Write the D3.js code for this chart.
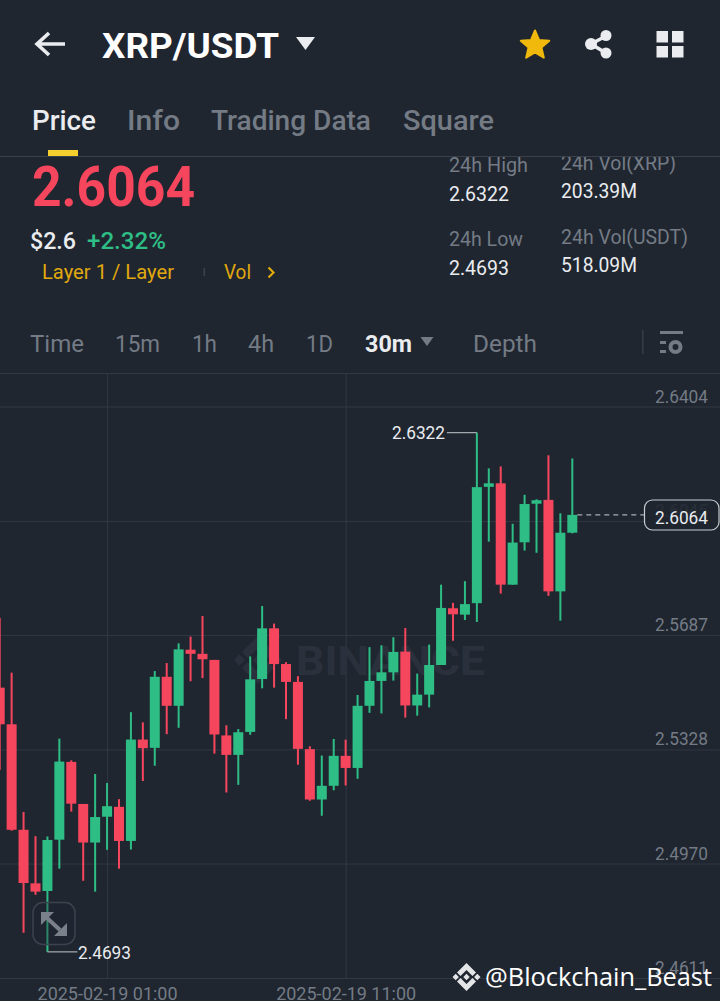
<!DOCTYPE html>
<html>
<head>
<meta charset="utf-8">
<style>
  html, body { margin: 0; padding: 0; background: #1f2630; overflow: hidden; }
  svg { display: block; }
  text { font-family: Roboto, "Noto Sans", sans-serif; }
</style>
<script src="https://cdn.jsdelivr.net/npm/d3@7"></script>
</head>
<body>
<div id="chart"></div>
<script>
// candles, oldest first, 30m each
const opens = [2.5522,2.5407,2.5076,2.4908,2.4884,2.5045,2.5289,2.5157,2.5036,2.5117,2.5148,2.5041,2.5359,2.5333,2.5556,2.5465,2.5641,2.5628,2.5609,2.5372,2.5311,2.5383,2.5549,2.5708,2.5596,2.5540,2.5329,2.5171,2.5214,2.5308,2.5270,2.5465,2.5543,2.5570,2.5635,2.5466,2.5500,2.5593,2.5771,2.5751,2.5787,2.6152,2.6163,2.5845,2.5978,2.6099,2.6111,2.5824,2.6008];
const closes = [2.5407,2.5076,2.4909,2.4882,2.5044,2.5290,2.5158,2.5036,2.5116,2.5150,2.5041,2.5359,2.5332,2.5556,2.5465,2.5642,2.5628,2.5611,2.5375,2.5311,2.5382,2.5548,2.5708,2.5596,2.5540,2.5330,2.5171,2.5214,2.5308,2.5270,2.5465,2.5543,2.5570,2.5634,2.5466,2.5500,2.5593,2.5772,2.5752,2.5784,2.6151,2.6163,2.5845,2.5977,2.6098,2.6110,2.5824,2.6008,2.6064];
const highs = [2.5741,2.5569,2.5132,2.5056,2.5055,2.5362,2.5294,2.5157,2.5251,2.5223,2.5172,2.5445,2.5413,2.5574,2.5599,2.5661,2.5682,2.5747,2.5609,2.5404,2.5392,2.5620,2.5778,2.5723,2.5602,2.5558,2.5338,2.5309,2.5361,2.5359,2.5499,2.5649,2.5655,2.5680,2.5709,2.5566,2.5657,2.5845,2.5788,2.5856,2.6322,2.6210,2.6216,2.6036,2.6127,2.6113,2.6251,2.6069,2.6241];
const lows = [2.5264,2.5073,2.4753,2.4872,2.4693,2.4954,2.5133,2.4916,2.4882,2.5013,2.4954,2.5014,2.5229,2.5277,2.5376,2.5396,2.5542,2.5552,2.5315,2.5193,2.5217,2.5374,2.5520,2.5522,2.5423,2.5280,2.5167,2.5120,2.5200,2.5215,2.5236,2.5443,2.5441,2.5544,2.5428,2.5434,2.5460,2.5593,2.5669,2.5734,2.5728,2.5980,2.5817,2.5845,2.5952,2.5945,2.5810,2.5732,2.6006];

const priceTicks = [2.6404, 2.6045, 2.5687, 2.5328, 2.4970, 2.4611];
const timeTicks = [9, 29];
const timeLabels = ["2025-02-19 01:00", "2025-02-19 11:00"];

const lastPrice = 2.6064;
const highPrice = 2.6322;
const lowPrice = 2.4693;
const highIndex = 40;
const lowIndex = 4;

const width = 720, height = 1001;
const green = "#2ebd85", red = "#f6465d", gold = "#e0a90d";
const grey = "#747b85", white = "#eaecef", gridColor = "#323843";

const svg = d3.select("#chart").append("svg")
  .attr("width", width)
  .attr("height", height);

const x = d3.scaleLinear().domain([0, 48]).range([-0.3, 572.3]);
const y = d3.scaleLinear().domain([2.4611, 2.6404]).range([978, 406.5]);

// text helper, width forces the run to the measured length
function label(parent, str, px, py, size, color, weight, w) {
  const t = parent.append("text")
    .attr("x", px).attr("y", py)
    .attr("font-size", size)
    .attr("fill", color)
    .attr("font-weight", weight || 400)
    .text(str);
  if (w) t.attr("textLength", w).attr("lengthAdjust", "spacingAndGlyphs");
  return t;
}

// exchange logo, s is half its height
function logo(parent, cx, cy, s, color) {
  const u = s / 14;
  const top = "M0,-14L9.5,-4.5L6,-1L0,-7L-6,-1L-9.5,-4.5Z";
  const g = parent.append("g")
    .attr("transform", `translate(${cx},${cy}) scale(${u})`)
    .attr("fill", color);
  g.append("path").attr("d", top);
  g.append("path").attr("d", top).attr("transform", "scale(1,-1)");
  g.append("path").attr("d", "M0,-3.2L3.2,0L0,3.2L-3.2,0Z");
  g.append("path").attr("d", "M-10.8,-3.2L-7.6,0L-10.8,3.2L-14,0Z");
  g.append("path").attr("d", "M10.8,-3.2L14,0L10.8,3.2L7.6,0Z");
}

// ---- header ----
const head = svg.append("g");
head.append("path")
  .attr("d", "M65,44H38M49,33L37,44L49,55")
  .attr("fill", "none").attr("stroke", white).attr("stroke-width", 3.6);
label(head, "XRP/USDT", 102, 57.5, 35, "#fff", 700, 177);
head.append("path").attr("d", "M296,37H315L305.5,50Z").attr("fill", white);

// star
const starPts = d3.range(10).map(i => {
  const r = i % 2 ? 6.8 : 15;
  const a = -Math.PI / 2 + i * Math.PI / 5;
  return [535 + r * Math.cos(a), 45.5 + r * Math.sin(a)];
});
head.append("path").attr("d", d3.line()(starPts) + "Z")
  .attr("fill", "#f0b90b").attr("stroke", "#f0b90b")
  .attr("stroke-width", 2).attr("stroke-linejoin", "round");

// share
head.append("path").attr("d", "M606,36L591,44L606,53")
  .attr("fill", "none").attr("stroke", white).attr("stroke-width", 3.5);
[[606, 35.5, 5.5], [591, 44, 6], [606, 53, 5.5]].forEach(c => {
  head.append("circle").attr("cx", c[0]).attr("cy", c[1]).attr("r", c[2]).attr("fill", white);
});

// grid icon
[[656.5, 31], [672, 31], [656.5, 46], [672, 46]].forEach(c => {
  head.append("rect").attr("x", c[0]).attr("y", c[1])
    .attr("width", 11.5).attr("height", 11.5).attr("fill", white);
});

// ---- tabs ----
const tabs = ["Price", "Info", "Trading Data", "Square"];
const tabX = [32, 127, 211, 403];
const tabW = [64, 53, 160, 91];
tabs.forEach((t, i) => {
  label(head, t, tabX[i], 129.5, 28, i === 0 ? white : grey, 500, tabW[i]);
});
head.append("rect").attr("x", 48).attr("y", 150).attr("width", 30).attr("height", 6).attr("fill", "#f5cf2d");
head.append("line").attr("x1", 0).attr("x2", width).attr("y1", 156.5).attr("y2", 156.5)
  .attr("stroke", "#39404b").attr("stroke-width", 1);

// ---- price block ----
const block = svg.append("g");
label(block, "2.6064", 32, 205.5, 55, red, 700, 163);
label(block, "$2.6", 30, 248.5, 23, white, 500, 46);
label(block, "+2.32%", 87, 248.5, 23, green, 500, 79);
label(block, "Layer 1 / Layer", 42, 278.5, 20, gold, 400, 132);
block.append("rect").attr("x", 203.5).attr("y", 268).attr("width", 1.5).attr("height", 8).attr("fill", "#3d434e");
label(block, "Vol", 224, 278.5, 20, gold, 400, 27);
block.append("path").attr("d", "M268.5,267.5L273.5,272.5L268.5,277.5")
  .attr("fill", "none").attr("stroke", gold).attr("stroke-width", 2.2);

// the scrolled stats are clipped by the tab bar
const clip = svg.append("defs").append("clipPath").attr("id", "statsClip");
clip.append("rect").attr("x", 430).attr("y", 157).attr("width", 290).attr("height", 130);
const stats = block.append("g").attr("clip-path", "url(#statsClip)");
label(stats, "24h High", 449, 172, 20, grey, 400, 79);
label(stats, "2.6322", 449, 200.5, 20, white, 400, 60);
label(stats, "24h Vol(XRP)", 561, 170, 20, grey, 400, 115);
label(stats, "203.39M", 561, 198, 20, white, 400, 76);
label(stats, "24h Low", 449, 246, 20, grey, 400, 74);
label(stats, "2.4693", 449, 275, 20, white, 400, 60);
label(stats, "24h Vol(USDT)", 561, 243.5, 20, grey, 400, 127);
label(stats, "518.09M", 561, 272, 20, white, 400, 76);

// ---- interval bar ----
const bar = svg.append("g");
const intervals = ["Time", "15m", "1h", "4h", "1D", "30m", "Depth"];
const intervalX = [30, 115, 192, 248, 306, 365, 473];
const intervalW = [54, 45, 25, 26, 27, 47, 64];
intervals.forEach((t, i) => {
  label(bar, t, intervalX[i], 351.5, 24, t === "30m" ? white : grey, t === "30m" ? 700 : 400, intervalW[i]);
});
bar.append("path").attr("d", "M420.5,337H433.5L427,346Z").attr("fill", grey);
bar.append("rect").attr("x", 642).attr("y", 330).attr("width", 1.5).attr("height", 24).attr("fill", "#363c47");
bar.append("rect").attr("x", 660).attr("y", 331).attr("width", 23).attr("height", 3).attr("fill", grey);
bar.append("rect").attr("x", 660).attr("y", 341).attr("width", 6).attr("height", 3).attr("fill", grey);
bar.append("rect").attr("x", 660).attr("y", 350).attr("width", 6).attr("height", 3).attr("fill", grey);
bar.append("circle").attr("cx", 675.5).attr("cy", 347).attr("r", 5)
  .attr("fill", "none").attr("stroke", grey).attr("stroke-width", 4);

// ---- chart grid and axes ----
const chart = svg.append("g");
chart.append("line").attr("x1", 0).attr("x2", width).attr("y1", 373.5).attr("y2", 373.5)
  .attr("stroke", gridColor);

const yAxis = d3.axisRight(y)
  .tickValues(priceTicks)
  .tickFormat(d3.format(".4f"))
  .tickSize(width)
  .tickPadding(-width);
const yG = chart.append("g").call(yAxis);
yG.select(".domain").remove();
yG.selectAll(".tick line").attr("stroke", gridColor);
yG.selectAll(".tick text")
  .attr("x", 708).attr("y", -4.5).attr("dy", 0)
  .attr("text-anchor", "end")
  .attr("fill", grey)
  .attr("font-size", 18)
  .attr("font-family", "Roboto, sans-serif")
  .attr("textLength", 53)
  .attr("lengthAdjust", "spacingAndGlyphs");

const xAxis = d3.axisBottom(x)
  .tickValues(timeTicks)
  .tickFormat((d, i) => timeLabels[i])
  .tickSize(-(978 - 374));
const xG = chart.append("g").attr("transform", "translate(0,978)").call(xAxis);
xG.select(".domain").remove();
xG.selectAll(".tick line").attr("stroke", gridColor);
xG.selectAll(".tick text")
  .attr("y", 22).attr("dy", 0)
  .attr("fill", grey)
  .attr("font-size", 18)
  .attr("font-family", "Roboto, sans-serif")
  .attr("textLength", 140)
  .attr("lengthAdjust", "spacingAndGlyphs");

// ---- chart watermark ----
logo(chart, 258, 660, 24, "#2b313c");
label(chart, "BINANCE", 296, 675, 41, "#2b313c", 700, 189);

// ---- candles ----
const candles = d3.range(opens.length).map(i => ({
  i, open: opens[i], close: closes[i], high: highs[i], low: lows[i]
}));
const bodyW = 10;

const candle = chart.selectAll(".candle").data(candles).enter().append("g")
  .attr("class", "candle")
  .attr("fill", d => d.close >= d.open ? green : red);

candle.append("rect")
  .attr("x", d => x(d.i) - 1)
  .attr("width", 2)
  .attr("y", d => y(d.high))
  .attr("height", d => y(d.low) - y(d.high));

candle.append("rect")
  .attr("x", d => x(d.i) - bodyW / 2)
  .attr("width", bodyW)
  .attr("y", d => y(Math.max(d.open, d.close)))
  .attr("height", d => Math.max(1, Math.abs(y(d.open) - y(d.close))));

// ---- high, low and last price marks ----
const leader = "#a9adb3";
chart.append("line")
  .attr("x1", x(highIndex) - 30).attr("x2", x(highIndex))
  .attr("y1", y(highPrice)).attr("y2", y(highPrice))
  .attr("stroke", leader).attr("stroke-width", 1.2);
label(chart, "2.6322", 392, y(highPrice) + 6.5, 18, white, 400, 53);

chart.append("line")
  .attr("x1", x(lowIndex)).attr("x2", x(lowIndex) + 30)
  .attr("y1", y(lowPrice)).attr("y2", y(lowPrice))
  .attr("stroke", leader).attr("stroke-width", 1.2);
label(chart, "2.4693", 78, y(lowPrice) + 7.5, 18, white, 400, 53);

chart.append("line")
  .attr("x1", x(48) + 5).attr("x2", 644)
  .attr("y1", y(lastPrice)).attr("y2", y(lastPrice))
  .attr("stroke", leader).attr("stroke-width", 1.2)
  .attr("stroke-dasharray", "5 4");
chart.append("rect")
  .attr("x", 644.5).attr("y", 500).attr("width", 74.5).attr("height", 30).attr("rx", 8)
  .attr("fill", "#1f2630").attr("fill-opacity", 0.9)
  .attr("stroke", "#c9ccd1").attr("stroke-width", 1.2);
label(chart, "2.6064", 655, 524, 18, white, 400, 53);

// ---- expand button ----
const btn = chart.append("g");
btn.append("rect").attr("x", 33).attr("y", 902.5).attr("width", 42).attr("height", 42).attr("rx", 10)
  .attr("fill", "#1f2630").attr("fill-opacity", 0.35)
  .attr("stroke", "#3d434e").attr("stroke-width", 1.5);
btn.append("path").attr("d", "M47,918L60,930").attr("stroke", "#7b818a").attr("stroke-width", 4);
btn.append("path").attr("d", "M41,912H54L41,925Z").attr("fill", "#7b818a");
btn.append("path").attr("d", "M67,936H54L67,923Z").attr("fill", "#7b818a");

// ---- author tag ----
const tag = svg.append("g");
logo(tag, 466.5, 977, 14, "#e4e5e7");
label(tag, "@Blockchain_Beast", 485, 986, 26, "#fff", 400, 227)
  .style("font-family", "'Open Sans', sans-serif");
</script>
</body>
</html>
